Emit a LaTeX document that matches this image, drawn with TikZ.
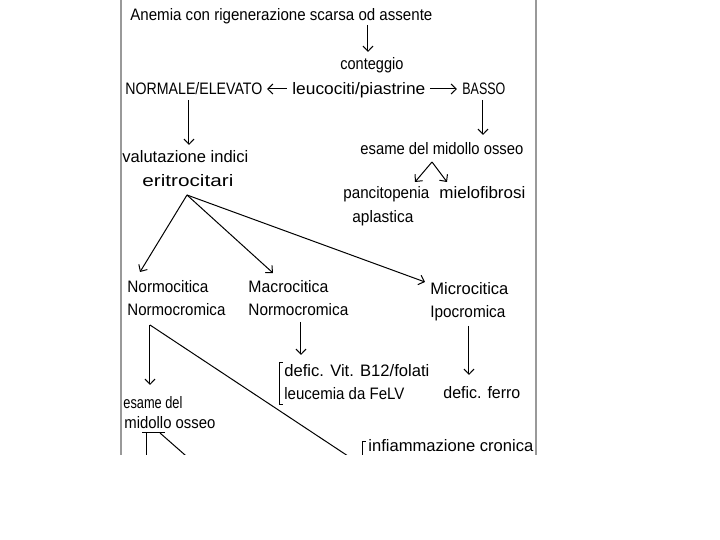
\documentclass[tikz,border=0pt]{standalone}
\usepackage{fontspec}
\setmainfont{Liberation Sans}
\usetikzlibrary{arrows.meta}
\newsavebox\fwbox
\newlength\fwlen
\newcommand{\fw}[2]{\sbox\fwbox{#2}\setlength\fwlen{\wd\fwbox}\pgfmathsetmacro\fwr{#1*0.5/\fwlen}\scalebox{\fwr}[1]{\usebox\fwbox}}
\begin{document}
\begin{tikzpicture}[x=0.5pt,y=-0.5pt,
  txt/.style={inner sep=0pt, anchor=base west, font=\fontsize{8.3}{10}\selectfont},
  conn/.style={line width=0.5pt, black},
  arr/.style={conn, -{Straight Barb[length=2.6pt,width=5pt]}},
  frame/.style={line width=1pt, color=black!40}]
\useasboundingbox (0,0) rectangle (720,540);
% frame
\draw[frame] (121,0) -- (121,455);
\draw[frame] (536,0) -- (536,455);
% texts (positions are baselines)
\node[txt] (title) at (130,21) {\fw{302}{Anemia con rigenerazione scarsa od assente}};
\node[txt] (cont) at (340,70) {\fw{63}{conteggio}};
\node[txt] (norm) at (125,95) {\fw{137}{NORMALE/ELEVATO}};
\node[txt] (leuco) at (292,95) {\fw{133}{leucociti/piastrine}};
\node[txt] (basso) at (462,95) {\fw{43}{BASSO}};
\node[txt] (valut) at (122,163) {\fw{126}{valutazione indici}};
\node[txt] (erit) at (142,187) {\fw{91}{eritrocitari}};
\node[txt] (esame) at (360,155) {\fw{163}{esame del midollo osseo}};
\node[txt] (panc) at (343,199) {\fw{86}{pancitopenia}};
\node[txt] (mielo) at (439,199) {\fw{86}{mielofibrosi}};
\node[txt] (aplas) at (352,223) {\fw{61}{aplastica}};
\node[txt] (normoA) at (127,293) {\fw{81}{Normocitica}};
\node[txt] (normoB) at (127,316) {\fw{98}{Normocromica}};
\node[txt] (macroA) at (248,293) {\fw{80}{Macrocitica}};
\node[txt] (macroB) at (248,316) {\fw{100}{Normocromica}};
\node[txt] (microA) at (430,295) {\fw{78}{Microcitica}};
\node[txt] (microB) at (430,318) {\fw{75}{Ipocromica}};
\node[txt] (vit) at (284,377) {\fw{145}{defic. Vit. B12/folati}};
\node[txt] (felv) at (284,400) {\fw{120}{leucemia da FeLV}};
\node[txt] (ferro) at (443,399) {\fw{77}{defic. ferro}};
\node[txt] (esA) at (123,409) {\fw{59}{esame del}};
\node[txt] (esB) at (124,429) {\fw{91}{midollo osseo}};
\node[txt] (infl) at (368,452) {\fw{165}{infiammazione cronica}};
% connector points
\coordinate (t0) at (368,25);   \coordinate (t1) at (368,52);
\coordinate (l0) at (287,89);   \coordinate (l1) at (267,89);
\coordinate (r0) at (430,89);   \coordinate (r1) at (457,89);
\coordinate (n0) at (189,100);  \coordinate (n1) at (189,145);
\coordinate (b0) at (483,100);  \coordinate (b1) at (483,135);
\coordinate (efan) at (432,162);
\coordinate (pT) at (415,182);  \coordinate (mT) at (447,182);
\coordinate (rfan) at (187,195);
\coordinate (nT) at (140,272);  \coordinate (maT) at (273,273); \coordinate (miT) at (425,282);
\coordinate (nb) at (150,325);  \coordinate (nbT) at (150,385); \coordinate (nd) at (357,462);
\coordinate (ma0) at (301,322); \coordinate (ma1) at (301,355);
\coordinate (mi0) at (469,326); \coordinate (mi1) at (469,375);
\coordinate (u0) at (142,433);  \coordinate (u1) at (165,433);
\coordinate (uv) at (147,433);  \coordinate (uvE) at (147,460);
\coordinate (ud) at (160,433);  \coordinate (udE) at (193,462);
\begin{scope}
\clip (0,0) rectangle (720,455);
\draw[arr] (t0) -- (t1);
\draw[arr] (l0) -- (l1);
\draw[arr] (r0) -- (r1);
\draw[arr] (n0) -- (n1);
\draw[arr] (b0) -- (b1);
\draw[arr] (efan) -- (pT);
\draw[arr] (efan) -- (mT);
\draw[arr] (rfan) -- (nT);
\draw[arr] (rfan) -- (maT);
\draw[arr] (rfan) -- (miT);
\draw[arr] (nb) -- (nbT);
\draw[conn] (nb) -- (nd);
\draw[arr] (ma0) -- (ma1);
\draw[arr] (mi0) -- (mi1);
\draw[conn] (283,363) -- (280,363) -- (280,405) -- (283,405);
\draw[conn] (u0) -- (u1);
\draw[conn] (uv) -- (uvE);
\draw[conn] (ud) -- (udE);
\draw[conn] (366,442) -- (363,442) -- (363,460);
\end{scope}
\end{tikzpicture}
\end{document}
